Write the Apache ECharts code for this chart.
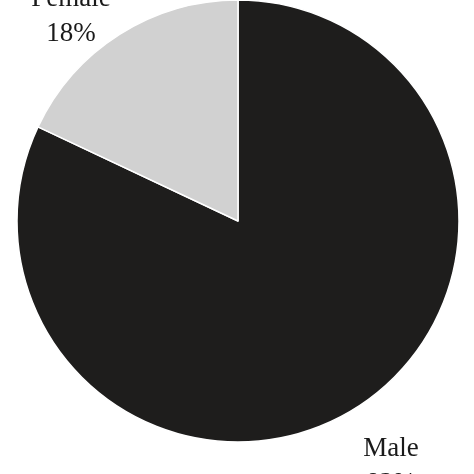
<!DOCTYPE html>
<html>
<head>
<meta charset="utf-8">
<script src="https://cdn.jsdelivr.net/npm/echarts@6/dist/echarts.min.js"></script>
<style>
  html, body { margin: 0; padding: 0; background: #fff; }
  #main { width: 474px; height: 474px; }
</style>
</head>
<body>
<div id="main"></div>
<script>
// gender split
var categories = ['Male', 'Female'];
var shares = [82, 18];
var sliceColors = ['#1e1d1c', '#d1d1d1'];

var myChart = echarts.init(document.getElementById('main'));

// label spots (top-left and bottom-right, partly clipped)
var labelSpots = [
    { x: 391, y: 466 },
    { x: 71, y: 16 }
];

var option = {
    backgroundColor: '#fff',
    animation: false,
    series: [
        {
            type: 'pie',
            center: [238, 221],
            radius: [0, 221],
            startAngle: 90,
            clockwise: true,
            itemStyle: {
                borderColor: '#fff',
                borderWidth: 1.5
            },
            label: {
                show: true,
                position: 'outside',
                formatter: '{b}\n{c}%',
                fontFamily: 'Liberation Serif',
                fontSize: 27,
                lineHeight: 35,
                color: '#1a1a1a',
                align: 'center',
                overflow: 'none'
            },
            labelLine: { show: false },
            labelLayout: function (params) {
                var p = labelSpots[params.dataIndex];
                return { x: p.x, y: p.y, align: 'center', verticalAlign: 'middle' };
            },
            data: categories.map(function (name, i) {
                return { name: name, value: shares[i], itemStyle: { color: sliceColors[i] } };
            })
        }
    ]
};
myChart.setOption(option);
</script>
</body>
</html>
